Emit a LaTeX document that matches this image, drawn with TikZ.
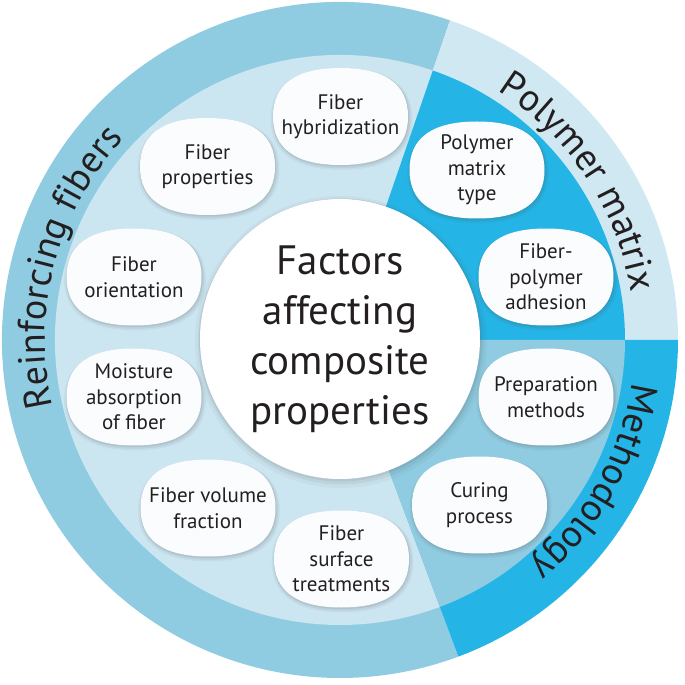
\documentclass[tikz,border=0pt]{standalone}
\usepackage{fontspec}
\setmainfont{PT Sans}
\usetikzlibrary{decorations.text}
\definecolor{medblue}{RGB}{143,204,225}
\definecolor{lightblue}{RGB}{204,230,241}
\definecolor{paleblue}{RGB}{207,232,242}
\definecolor{brightblue}{RGB}{36,181,230}
\definecolor{nodewhite}{RGB}{250,252,253}
\definecolor{ink}{RGB}{35,31,32}
\newcommand\ringfnt{\fontsize{38pt}{40pt}\selectfont\color{ink}}
\newcommand\blobpath{(-67.5,0) .. controls (-67.5,32) and (-45,48.5) .. (0,48.5)
    .. controls (45,48.5) and (67.5,32) .. (67.5,0)
    .. controls (67.5,-32) and (45,-48.5) .. (0,-48.5)
    .. controls (-45,-48.5) and (-67.5,-32) .. (-67.5,0) -- cycle}
% a factor box: rounded blob with a soft shadow, its text node on top
\newcommand\factorat[3]{%
  \coordinate (#1-c) at (#2);
  \fill[shadowtint, opacity=0.06, shift={(#1-c)}, xshift=1pt, yshift=-2.5pt, scale=1.05] \blobpath;
  \fill[shadowtint, opacity=0.08, shift={(#1-c)}, xshift=1pt, yshift=-2pt, scale=1.025] \blobpath;
  \fill[shadowtint, opacity=0.10, shift={(#1-c)}, xshift=0.5pt, yshift=-1pt, scale=1.01] \blobpath;
  \fill[nodewhite, shift={(#1-c)}] \blobpath;
  \node[factor] (#1) at (#1-c) {#3};}
\begin{document}
\begin{tikzpicture}[x=1pt,y=1pt,
  shadowtint/.style={fill=black!70},
  factor/.style={inner sep=0pt, align=center, text=ink,
      font=\fontsize{21pt}{25.5pt}\selectfont},
  hub/.style={circle, fill=white, minimum size=280pt, inner sep=0pt,
      align=center, text=ink, font=\fontsize{41pt}{50pt}\selectfont},
  ringtext/.style={decorate, decoration={text along path, text align=center,
      text={#1}}}
]
\useasboundingbox (-340,-345) rectangle (345,340);
% outer ring sectors
\fill[medblue] (0,0) -- (71:338) arc[start angle=71, end angle=290.5, radius=338] -- cycle;
\fill[paleblue] (0,0) -- (0:338) arc[start angle=0, end angle=71, radius=338] -- cycle;
\fill[brightblue] (0,0) -- (-69.5:338) arc[start angle=-69.5, end angle=0, radius=338] -- cycle;
% inner disk sectors
\fill[lightblue] (0,0) -- (71:285) arc[start angle=71, end angle=290.5, radius=285] -- cycle;
\fill[brightblue] (0,0) -- (0:285) arc[start angle=0, end angle=71, radius=285] -- cycle;
\fill[medblue] (0,0) -- (-69.5:285) arc[start angle=-69.5, end angle=0, radius=285] -- cycle;
% ring labels
\path[ringtext={|\ringfnt|Reinforcing fibers}] (200:295) arc[start angle=200, end angle=130, radius=295];
\path[ringtext={|\ringfnt|Polymer matrix}] (64:295) arc[start angle=64, end angle=3, radius=295];
\path[ringtext={|\ringfnt|Methodology}] (-1:295) arc[start angle=-1, end angle=-57, radius=295];
% hub with soft shadow
\fill[shadowtint, opacity=0.05] (1,-2) circle[radius=146];
\fill[shadowtint, opacity=0.07] (1,-1.5) circle[radius=143];
\fill[shadowtint, opacity=0.09] (0.5,0) circle[radius=141.5];
\node[hub] (hub) at (0,1) {Factors\\affecting\\composite\\properties};
% factors
\factorat{hyb}{0.5,223.5}{Fiber\\hybridization}
\factorat{prop}{-132.5,173.5}{Fiber\\properties}
\factorat{orient}{-206,63}{Fiber\\orientation}
\factorat{moist}{-206,-57}{Moisture\\absorption\\of fiber}
\factorat{vol}{-132,-168}{Fiber volume\\fraction}
\factorat{surf}{1.5,-219}{Fiber\\surface\\treatments}
\factorat{ptype}{137,170}{Polymer\\matrix\\type}
\factorat{adh}{206,63}{Fiber-\\polymer\\adhesion}
\factorat{prep}{206,-57}{Preparation\\methods}
\factorat{cure}{139.5,-165}{Curing\\process}
\end{tikzpicture}
\end{document}
